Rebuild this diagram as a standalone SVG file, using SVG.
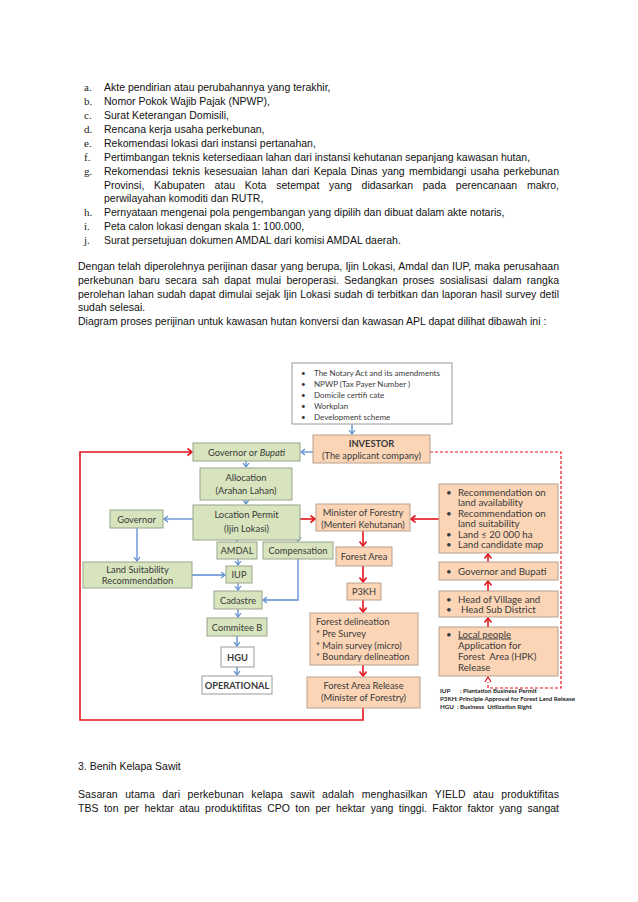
<svg xmlns="http://www.w3.org/2000/svg" width="638" height="902" viewBox="0 0 638 902">
<defs>
<style>
.body{font-family:"Liberation Sans",Arial,sans-serif;font-size:10.5px;fill:#111}
.mk{font-family:"Liberation Serif","Times New Roman",serif;font-size:11px;fill:#222}
.bx{font-family:Lato,"Open Sans",sans-serif;font-size:9.3px;fill:#3a3a3a}
.bl{font-family:Lato,"Open Sans",sans-serif;font-size:8px;fill:#3a3a3a}
.br{font-family:Lato,"Open Sans",sans-serif;font-size:9.7px;fill:#3a3a3a}
.lg{font-family:Lato,"Open Sans",sans-serif;font-size:6.2px;font-weight:bold;fill:#222}
.g{fill:#d7e4bd;stroke:#98a58c;stroke-width:1}
.p{fill:#fbd5b6;stroke:#b9a08c;stroke-width:1}
.w{fill:#fff;stroke:#9a9a9a;stroke-width:1}
.b{fill:none;stroke:#5a8ad0;stroke-width:1.3;marker-end:url(#ab)}
.r{fill:none;stroke:#e3141e;stroke-width:1.6;marker-end:url(#ar)}
.rd{fill:none;stroke:#e3141e;stroke-width:1.2;stroke-dasharray:3 2}
.c{text-anchor:middle}
</style>
<marker id="ab" markerUnits="userSpaceOnUse" markerWidth="8" markerHeight="8" refX="4.5" refY="3.5" orient="auto"><path d="M0.5,0.5 L4.5,3.5 L0.5,6.5" fill="none" stroke="#5a8ad0" stroke-width="1.2"/></marker>
<marker id="ar" markerUnits="userSpaceOnUse" markerWidth="9" markerHeight="9" refX="5" refY="4" orient="auto"><path d="M0.5,0.5 L5,4 L0.5,7.5" fill="none" stroke="#e3141e" stroke-width="1.6"/></marker>
</defs>
<rect width="638" height="902" fill="#fff"/>

<g id="list">
<text class="mk" x="84" y="90.5">a.</text><text class="body" x="104" y="90.5">Akte pendirian atau perubahannya yang terakhir,</text>
<text class="mk" x="84" y="104.5">b.</text><text class="body" x="104" y="104.5">Nomor Pokok Wajib Pajak (NPWP),</text>
<text class="mk" x="84" y="118.5">c.</text><text class="body" x="104" y="118.5">Surat Keterangan Domisili,</text>
<text class="mk" x="84" y="132.5">d.</text><text class="body" x="104" y="132.5">Rencana kerja usaha perkebunan,</text>
<text class="mk" x="84" y="146.5">e.</text><text class="body" x="104" y="146.5">Rekomendasi lokasi dari instansi pertanahan,</text>
<text class="mk" x="84" y="160.5">f.</text><text class="body" x="104" y="160.5">Pertimbangan teknis ketersediaan lahan dari instansi kehutanan sepanjang kawasan hutan,</text>
<text class="mk" x="84" y="174.5">g.</text><text class="body" x="104" y="174.5" word-spacing="1.4" textLength="455" lengthAdjust="spacing">Rekomendasi teknis kesesuaian lahan dari Kepala Dinas yang membidangi usaha perkebunan</text>
<text class="body" x="104" y="188.5" word-spacing="6.8" textLength="455" lengthAdjust="spacing">Provinsi, Kabupaten atau Kota setempat yang didasarkan pada perencanaan makro,</text>
<text class="body" x="104" y="202">perwilayahan komoditi dan RUTR,</text>
<text class="mk" x="84" y="215.5">h.</text><text class="body" x="104" y="215.5">Pernyataan mengenai pola pengembangan yang dipilih dan dibuat dalam akte notaris,</text>
<text class="mk" x="84" y="229.5">i.</text><text class="body" x="104" y="229.5">Peta calon lokasi dengan skala 1: 100.000,</text>
<text class="mk" x="84" y="243.5">j.</text><text class="body" x="104" y="243.5">Surat persetujuan dokumen AMDAL dari komisi AMDAL daerah.</text>
</g>

<g id="paragraph">
<text class="body" x="78" y="269.5" word-spacing="0.3" textLength="481" lengthAdjust="spacing">Dengan telah diperolehnya perijinan dasar yang berupa, Ijin Lokasi, Amdal dan IUP, maka perusahaan</text>
<text class="body" x="78" y="283.5" word-spacing="2.4" textLength="481" lengthAdjust="spacing">perkebunan baru secara sah dapat mulai beroperasi.  Sedangkan proses sosialisasi dalam rangka</text>
<text class="body" x="78" y="297.5" word-spacing="0.45" textLength="481" lengthAdjust="spacing">perolehan lahan sudah dapat dimulai sejak Ijin Lokasi sudah di terbitkan dan laporan hasil survey detil</text>
<text class="body" x="78" y="311">sudah selesai.</text>
<text class="body" x="78" y="325">Diagram proses perijinan untuk kawasan hutan konversi dan kawasan APL dapat dilihat dibawah ini :</text>
</g>

<g id="connectors">
<path class="b" d="M352,424 V434"/>
<path class="b" d="M313,452 H301"/>
<path class="b" d="M246,461 V467"/>
<path class="b" d="M246,500 V504"/>
<path class="b" d="M193,519 H164"/>
<path class="b" d="M137,528 V561"/>
<path class="b" d="M237,540 V541"/>
<path class="b" d="M282,533 H298 V541"/>
<path class="b" d="M192,575 H225"/>
<path class="b" d="M238,559 V565"/>
<path class="b" d="M298,559 V600 H263"/>
<path class="b" d="M238,583 V590"/>
<path class="b" d="M238,609 V617"/>
<path class="b" d="M237,636 V646"/>
<path class="b" d="M237,667 V675"/>
<path class="r" d="M363,708 V720 H80 V452 H192"/>
<path class="r" d="M300,519 H315"/>
<path class="r" d="M439,519 H411"/>
<path class="r" d="M363,531 V546"/>
<path class="r" d="M363,566 V582"/>
<path class="r" d="M363,600 V612"/>
<path class="r" d="M363,665 V676"/>
<path class="r" d="M488,562 V554"/>
<path class="r" d="M488,591 V581"/>
<path class="r" d="M488,627 V618"/>
<path class="rd" d="M430,452 H561 V688 H488 V682"/>
<path d="M485,682 L488,677 L491,682" fill="none" stroke="#e3141e" stroke-width="1.2"/>
</g>

<g id="docs">
<rect class="w" x="292" y="363" width="160" height="61"/>
<text class="bl" x="301" y="375.5">•</text><text class="bl" x="314" y="375.5">The Notary Act and its amendments</text>
<text class="bl" x="301" y="386.5">•</text><text class="bl" x="314" y="386.5">NPWP (Tax Payer Number )</text>
<text class="bl" x="301" y="398">•</text><text class="bl" x="314" y="398">Domicile certifi cate</text>
<text class="bl" x="301" y="409">•</text><text class="bl" x="314" y="409">Workplan</text>
<text class="bl" x="301" y="420">•</text><text class="bl" x="314" y="420">Development scheme</text>
</g>
<g id="investor">
<rect class="p" x="313" y="435" width="117" height="28"/>
<text class="bx c" x="371.5" y="446.5" font-weight="bold" font-size="8.8">INVESTOR</text>
<text class="bx c" x="371.5" y="459">(The applicant company)</text>
</g>
<g id="governor-bupati">
<rect class="g" x="193" y="443" width="107" height="18"/>
<text class="bx c" x="246.5" y="455.5">Governor or <tspan font-style="italic">Bupati</tspan></text>
</g>
<g id="allocation">
<rect class="g" x="200" y="468" width="92" height="32"/>
<text class="bx c" x="246" y="481">Allocation</text>
<text class="bx c" x="246" y="494">(Arahan Lahan)</text>
</g>
<g id="location-permit">
<rect class="g" x="193" y="505" width="107" height="35"/>
<text class="bx c" x="246.5" y="518">Location Permit</text>
<text class="bx c" x="246.5" y="532">(Ijin Lokasi)</text>
</g>
<g id="governor">
<rect class="g" x="110" y="510" width="53" height="18"/>
<text class="bx c" x="136.5" y="522.5">Governor</text>
</g>
<g id="minister">
<rect class="p" x="316" y="504" width="94" height="27"/>
<text class="bx c" x="363" y="516">Minister of Forestry</text>
<text class="bx c" x="363" y="528">(Menteri Kehutanan)</text>
</g>
<g id="recommendation">
<rect class="p" x="439" y="484" width="119" height="69"/>
<text class="br" x="446" y="495.5">•</text><text class="br" x="458" y="495.5">Recommendation on</text>
<text class="br" x="458" y="506">land availability</text>
<text class="br" x="446" y="516.5">•</text><text class="br" x="458" y="516.5">Recommendation on</text>
<text class="br" x="458" y="527">land suitability</text>
<text class="br" x="446" y="537.5">•</text><text class="br" x="458" y="537.5">Land ≤ 20 000 ha</text>
<text class="br" x="446" y="548">•</text><text class="br" x="458" y="548">Land candidate map</text>
</g>
<g id="amdal">
<rect class="g" x="217" y="542" width="40" height="17"/>
<text class="bx c" x="237" y="554">AMDAL</text>
</g>
<g id="compensation">
<rect class="g" x="263" y="542" width="70" height="17"/>
<text class="bx c" x="298" y="554">Compensation</text>
</g>
<g id="forest-area">
<rect class="p" x="336" y="547" width="56" height="19"/>
<text class="bx c" x="364" y="560">Forest Area</text>
</g>
<g id="land-suitability">
<rect class="g" x="83" y="562" width="109" height="26"/>
<text class="bx c" x="137.5" y="573" font-size="8.6">Land Suitability</text>
<text class="bx c" x="137.5" y="584" font-size="8.6">Recommendation</text>
</g>
<g id="iup">
<rect class="g" x="226" y="566" width="26" height="17"/>
<text class="bx c" x="239" y="578">IUP</text>
</g>
<g id="p3kh">
<rect class="p" x="347" y="583" width="34" height="17"/>
<text class="bx c" x="364" y="595">P3KH</text>
</g>
<g id="cadastre">
<rect class="g" x="214" y="591" width="48" height="18"/>
<text class="bx c" x="238" y="603.5">Cadastre</text>
</g>
<g id="governor-and-bupati">
<rect class="p" x="439" y="562" width="119" height="18"/>
<text class="br" x="446" y="574.5">•</text><text class="br" x="458" y="574.5">Governor and Bupati</text>
</g>
<g id="head-village">
<rect class="p" x="439" y="591" width="119" height="26"/>
<text class="br" x="446" y="602.5">•</text><text class="br" x="458" y="602.5">Head of Village and</text>
<text class="br" x="446" y="613">•</text><text class="br" x="461" y="613">Head Sub District</text>
</g>
<g id="commitee-b">
<rect class="g" x="207" y="618" width="60" height="18"/>
<text class="bx c" x="237" y="630.5">Commitee B</text>
</g>
<g id="forest-delineation">
<rect class="p" x="310" y="613" width="108" height="52"/>
<text class="bx" x="316" y="625">Forest delineation</text>
<text class="bx" x="316" y="637">* Pre Survey</text>
<text class="bx" x="316" y="648.5">* Main survey (micro)</text>
<text class="bx" x="316" y="660">* Boundary delineation</text>
</g>
<g id="local-people">
<rect class="p" x="439" y="627" width="119" height="49"/>
<text class="br" x="446" y="637.5">•</text><text class="br" x="458" y="637.5" text-decoration="underline">Local people</text>
<text class="br" x="458" y="648.5">Application for</text>
<text class="br" x="458" y="659.5" xml:space="preserve">Forest  Area (HPK)</text>
<text class="br" x="458" y="670.5">Release</text>
</g>
<g id="hgu">
<rect class="w" x="221" y="647" width="33" height="20"/>
<text class="bx c" x="237.5" y="661" font-weight="bold" font-size="10">HGU</text>
</g>
<g id="operational">
<rect class="w" x="202" y="676" width="70" height="18"/>
<text class="bx c" x="237" y="688.5" font-weight="bold" font-size="8.8">OPERATIONAL</text>
</g>
<g id="forest-area-release">
<rect class="p" x="307" y="677" width="113" height="31"/>
<text class="bx c" x="363.5" y="689">Forest Area Release</text>
<text class="bx c" x="363.5" y="701">(Minister of Forestry)</text>
</g>
<g id="legend">
<text class="lg" x="440" y="693">IUP</text><text class="lg" x="460" y="693">: Plantation Business Permit</text>
<text class="lg" x="440" y="701">P3KH</text><text class="lg" x="456" y="701">: Principle Approval for Forest Land Release</text>
<text class="lg" x="440" y="709">HGU</text><text class="lg" x="457" y="709" xml:space="preserve">: Business  Utilization Right</text>
</g>

<g id="section3">
<text class="body" x="78" y="770">3. Benih Kelapa Sawit</text>
<text class="body" x="78" y="797.5" word-spacing="4.4" textLength="481" lengthAdjust="spacing">Sasaran  utama dari perkebunan kelapa sawit adalah menghasilkan YIELD atau produktifitas</text>
<text class="body" x="78" y="811.5" word-spacing="2.5" textLength="481" lengthAdjust="spacing">TBS ton per hektar atau produktifitas CPO ton per hektar yang tinggi. Faktor faktor yang sangat</text>
</g>
</svg>
